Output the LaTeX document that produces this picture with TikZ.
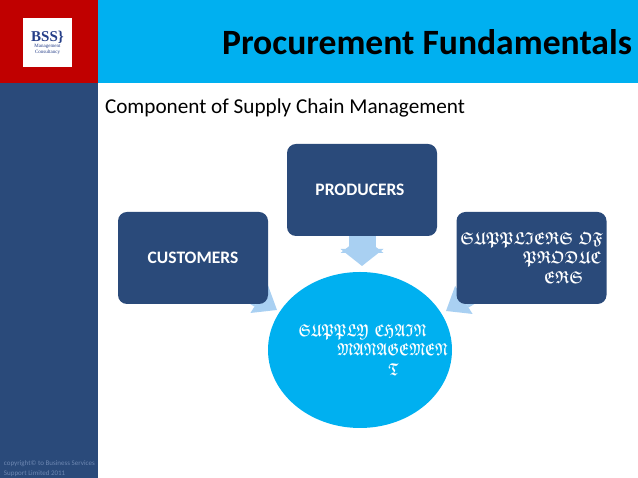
\documentclass[tikz,border=0pt]{standalone}
\usepackage{amsfonts}
\usepackage{fontspec}
\setmainfont{Carlito}
\newfontfamily\logofont{Liberation Serif}
\usetikzlibrary{arrows.meta,backgrounds,positioning,shapes.geometric}
\definecolor{skyband}{HTML}{00B0F0}
\definecolor{redband}{HTML}{C00000}
\definecolor{navyband}{HTML}{2A4A7A}
\definecolor{arrowblue}{HTML}{A9D0F2}
\definecolor{copytext}{HTML}{6E88B2}
\definecolor{logoblue}{HTML}{253E88}
\newcommand{\goth}{\fontsize{17.28}{19.5}\usefont{U}{euf}{b}{n}}
\newcommand{\gothline}[2][.82]{\scalebox{#1}[1]{#2}}

\begin{document}
\begin{tikzpicture}[x=1pt,y=1pt]
\tikzstyle{every node}=[inner sep=0pt, outer sep=0pt]
\tikzstyle{box}=[fill=navyband,rounded corners=9pt,minimum width=150pt,minimum height=92pt,text=white,align=center,font=\fontsize{17.5}{20}\selectfont\bfseries]
\tikzstyle{blockarrow}=[draw=arrowblue,line width=27pt,-{Triangle[width=43pt,length=17pt,line width=0pt,fill=arrowblue]}]

\useasboundingbox (0,0) rectangle (638,478);
\fill[skyband] (98,395) rectangle (638,478);
\fill[redband] (0,395) rectangle (98,478);
\fill[navyband] (0,0) rectangle (98,395);

\node[fill=white,minimum size=49pt,align=center,text=logoblue,font=\logofont\fontsize{5}{5.5}\selectfont] (logo) at (47.5,435.5)
  {\fontsize{15}{15}\selectfont\bfseries BSS\}\\[1pt]Management\\Consultancy};
\node[anchor=base east,font=\fontsize{35.6}{40}\selectfont\bfseries] (title) at (632,423) {Procurement Fundamentals};
\node[anchor=base west,font=\fontsize{21.2}{26}\selectfont] (subtitle) at (105,364) {Component of Supply Chain Management};
\node[anchor=south west,align=left,text=copytext,font=\fontsize{7}{9.5}\selectfont] (copyright) at (4,1.5) {copyright© to Business Services\\Support Limited 2011};

\node[box]		(producers) at (362,288) {\hspace*{-4pt}PRODUCERS};
\node[box]		(customers) [left of=producers,node distance=169pt,yshift=-68pt] {CUSTOMERS};
\node[box,align=left,font=\goth]		(suppliers) [right of=producers,node distance=169.5pt,yshift=-68pt]
  {\gothline{SUPPLIERS\hspace{7pt}OF}\\\hspace*{63pt}\gothline{PRODUC}\\\hspace*{84pt}\gothline{ERS}};
\node[ellipse,fill=skyband,text=white,minimum width=184pt,minimum height=156pt,inner sep=-25pt,align=left,font=\goth]		(hub) at (360,128)
  {\hspace*{26pt}\gothline[.74]{SUPPLY\hspace{7pt}CHAIN}\\\hspace*{65pt}\gothline[.74]{MANAGEMEN}\\\hspace*{116pt}\gothline[.74]{T}};

\coordinate (producerstip) at (362,212);
\coordinate (customerstip) at (277,168);
\coordinate (supplierstip) at (446,167);

\begin{scope}[on background layer]
\path[blockarrow]
(producers.south) edge (producerstip);
\path[blockarrow,line width=18pt,-{Triangle[width=33pt,length=21pt,line width=0pt,fill=arrowblue]}]
(customers.center) edge (customerstip)
(suppliers.center) edge (supplierstip)
;
\end{scope}
\end{tikzpicture}
\end{document}
